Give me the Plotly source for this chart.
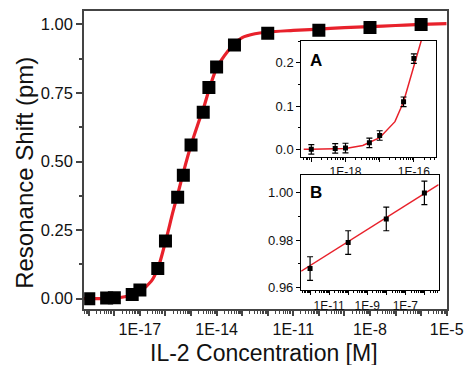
import plotly.graph_objects as go

# ---------------- data ----------------
conc = [1e-19, 5e-19, 1e-18, 5e-18, 1e-17, 5e-17, 1e-16, 3e-16, 5e-16, 1e-15,
        3e-15, 5e-15, 1e-14, 5e-14, 1e-12, 1e-10, 1e-8, 1e-6]
shift = [0.0, 0.002, 0.003, 0.015, 0.032, 0.11, 0.21, 0.37, 0.45, 0.56,
         0.68, 0.77, 0.845, 0.925, 0.968, 0.979, 0.989, 1.0]

# fit curve
fit_conc = [6e-20, 1e-19, 1e-18, 3.2e-18, 1e-17, 2.8e-17, 5e-17, 1e-16, 2e-16, 3.2e-16,
            5e-16, 1e-15, 2e-15, 3.2e-15, 5e-15, 1e-14, 2e-14, 5e-14, 1e-13,
            3.2e-13, 1e-12, 1e-11, 1e-10, 1e-9, 1e-8, 1e-7, 1e-6, 1e-5]
fit_shift = [0.0, 0.0, 0.002, 0.009, 0.027, 0.064, 0.11, 0.208, 0.32, 0.39,
             0.46, 0.56, 0.645, 0.70, 0.76, 0.84, 0.885, 0.93, 0.952,
             0.966, 0.972, 0.978, 0.983, 0.988, 0.992, 0.996, 1.0, 1.003]

# inset A (low concentration)
a_conc = [1e-19, 5e-19, 1e-18, 5e-18, 1e-17, 5e-17, 1e-16]
a_shift = [0.0, 0.002, 0.003, 0.015, 0.032, 0.11, 0.21]
a_err = [0.011, 0.011, 0.011, 0.011, 0.011, 0.011, 0.011]

# inset B (high concentration)
b_conc = [1e-12, 1e-10, 1e-8, 1e-6]
b_shift = [0.968, 0.979, 0.989, 1.0]
b_err = [0.005, 0.005, 0.005, 0.005]
b_fit_conc = [3.4e-13, 5.6e-6]
b_fit_shift = [0.9669, 1.0035]

main_ticks = [10.0 ** e for e in range(-19, -4)]
main_text = [("1E%d" % e) if e in (-17, -14, -11, -8, -5) else "" for e in range(-19, -4)]
a_ticks = [10.0 ** e for e in range(-19, -15)]
a_text = [("1E%d" % e) if e in (-18, -16) else "" for e in range(-19, -15)]
b_ticks = [10.0 ** e for e in range(-12, -5)]
b_text = [("1E%d" % e) if e in (-11, -9, -7) else "" for e in range(-12, -5)]

RED = "#e8212b"
FONT = "Liberation Sans, Arial, sans-serif"

fig = go.Figure()

# main
fig.add_trace(go.Scatter(x=fit_conc, y=fit_shift, mode="lines", line=dict(color=RED, width=3.2, shape="spline"),
                         xaxis="x", yaxis="y", hoverinfo="skip"))
fig.add_trace(go.Scatter(x=conc, y=shift, mode="markers",
                         marker=dict(symbol="square", size=13, color="black"), xaxis="x", yaxis="y"))
# inset A
fig.add_trace(go.Scatter(x=fit_conc, y=fit_shift, mode="lines", line=dict(color=RED, width=1.5),
                         xaxis="x2", yaxis="y2", hoverinfo="skip"))
fig.add_trace(go.Scatter(x=a_conc, y=a_shift, mode="markers",
                         marker=dict(symbol="square", size=5, color="black"),
                         error_y=dict(type="data", array=a_err, color="black", thickness=1.2, width=3),
                         xaxis="x2", yaxis="y2"))
# inset B
fig.add_trace(go.Scatter(x=b_fit_conc, y=b_fit_shift, mode="lines", line=dict(color=RED, width=1.5),
                         xaxis="x3", yaxis="y3", hoverinfo="skip"))
fig.add_trace(go.Scatter(x=b_conc, y=b_shift, mode="markers",
                         marker=dict(symbol="square", size=5, color="black"),
                         error_y=dict(type="data", array=b_err, color="black", thickness=1.2, width=3),
                         xaxis="x3", yaxis="y3"))

main_axis = dict(showgrid=False, zeroline=False, showline=True, mirror=True, linecolor="#444",
                 linewidth=2, ticks="outside", tickcolor="#444", tickwidth=1.5,
                 tickfont=dict(family=FONT, size=16.5, color="#111"))
inset_axis = dict(showgrid=False, zeroline=False, showline=True, mirror=True, linecolor="black",
                  linewidth=1.3, ticks="outside", tickcolor="black", tickwidth=1,
                  tickfont=dict(family=FONT, size=12, color="#111"))
inset_yfont = dict(family=FONT, size=13, color="#111")

fig.update_layout(
    width=474, height=365, margin=dict(l=0, r=0, t=0, b=0),
    paper_bgcolor="white", plot_bgcolor="white", showlegend=False,
    xaxis=dict(main_axis, type="log", range=[-19.18, -5.0], domain=[0.1667, 0.9599],
               tickvals=main_ticks, ticktext=main_text, ticklen=5,
               tickfont=dict(family=FONT, size=16, color="#111"),
               minor=dict(ticks="outside", ticklen=3, dtick="D1", tickcolor="#444", tickwidth=1),
               anchor="y"),
    yaxis=dict(main_axis, range=[-0.037, 1.049], domain=[0.1644, 0.9918],
               tickvals=[0, 0.25, 0.5, 0.75, 1.0], ticktext=["0.00", "0.25", "0.50", "0.75", "1.00"],
               ticklen=6, minor=dict(ticks="outside", ticklen=3, dtick=0.125, tickcolor="#444"),
               anchor="x"),
    xaxis2=dict(inset_axis, type="log", range=[-19.29, -15.35], domain=[0.642, 0.9367],
                tickvals=a_ticks, ticktext=a_text, ticklen=4,
                minor=dict(ticks="outside", ticklen=2, dtick="D1", tickcolor="black"),
                anchor="y2"),
    yaxis2=dict(inset_axis, range=[-0.0176, 0.251], domain=[0.5863, 0.9088],
                tickvals=[0, 0.1, 0.2], ticktext=["0.0", "0.1", "0.2"], ticklen=4,
                tickfont=inset_yfont,
                minor=dict(ticks="outside", ticklen=2, dtick=0.05, tickcolor="black"),
                anchor="x2"),
    xaxis3=dict(inset_axis, type="log", range=[-12.47, -5.25], domain=[0.6414, 0.9424],
                tickvals=b_ticks, ticktext=b_text, ticklen=4,
                minor=dict(ticks="outside", ticklen=2, dtick="D1", tickcolor="black"),
                anchor="y3"),
    yaxis3=dict(inset_axis, range=[0.9589, 1.0076], domain=[0.2164, 0.5364],
                tickvals=[0.96, 0.98, 1.0], ticktext=["0.96", "0.98", "1.00"], ticklen=4,
                tickfont=inset_yfont,
                minor=dict(ticks="outside", ticklen=2, dtick=0.01, tickcolor="black"),
                anchor="x3"),
    annotations=[
        dict(text="IL-2 Concentration [M]", x=266 / 474, y=1 - 349.5 / 365, xref="paper", yref="paper",
             showarrow=False, xanchor="center", yanchor="middle", borderpad=0,
             font=dict(family=FONT, size=23, color="#111")),
        dict(text="Resonance Shift (pm)", x=17 / 474, y=1 - 166.7 / 365, xref="paper", yref="paper",
             showarrow=False, xanchor="center", yanchor="middle", textangle=-90,
             font=dict(family=FONT, size=24, color="#111")),
        dict(text="<b>A</b>", x=311 / 474, y=1 - 53 / 365, xref="paper", yref="paper",
             showarrow=False, xanchor="left", yanchor="middle",
             font=dict(family=FONT, size=17, color="black")),
        dict(text="<b>B</b>", x=311 / 474, y=1 - 187.5 / 365, xref="paper", yref="paper",
             showarrow=False, xanchor="left", yanchor="middle",
             font=dict(family=FONT, size=17, color="black")),
    ],
)

fig.write_html("out.html")
